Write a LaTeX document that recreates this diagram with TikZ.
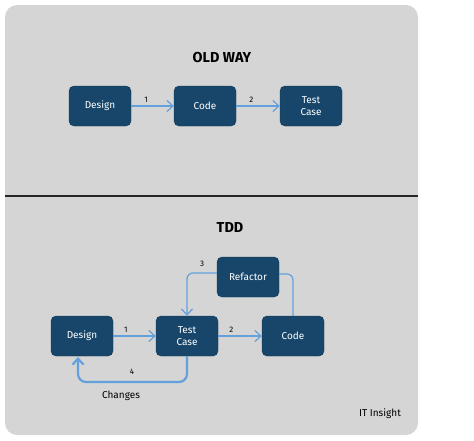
\documentclass[tikz,border=0pt]{standalone}
\usepackage{fontspec}
\setmainfont{Fira Sans}
\usetikzlibrary{arrows.meta}
\definecolor{panel}{RGB}{213,213,213}
\definecolor{navy}{RGB}{23,70,106}
\definecolor{flow}{RGB}{100,160,220}
\begin{document}
\begin{tikzpicture}[x=1pt,y=-1pt,
  box/.style={fill=navy,draw=navy!80!black,rounded corners=5pt,text=white,
    minimum width=62pt,minimum height=40pt,align=center,font=\normalsize,inner sep=1pt},
  flowline/.style={flow,line width=1.2pt,-{Straight Barb[length=6pt,width=11pt]}},
  num/.style={font=\footnotesize},
  title/.style={font=\Large\bfseries}]
\useasboundingbox (0,0) rectangle (474,440);
\fill[panel,rounded corners=12pt] (5,5) rectangle (418,435);
\draw[black!85,line width=1.3pt] (5,196) -- (418,196);

% old way
\node[title] (oldtitle) at (222,58) {OLD WAY};
\foreach \name/\txt/\x in {oDesign/Design/100,oCode/Code/205,oTest/{Test\\Case}/311}
  \node[box] (\name) at (\x,106) {\txt};
\foreach \a/\b/\n in {oDesign/oCode/1,oCode/oTest/2}{
  \draw[flowline] (\a) -- node[num,above,pos=0.35,black] {\n} (\b);
}

% tdd
\node[title] (tddtitle) at (230,228) {TDD};
\node[box] (tRefactor) at (248,277) {Refactor};
\foreach \name/\txt/\x in {tDesign/Design/82,tTest/{Test\\Case}/187,tCode/Code/293}
  \node[box] (\name) at (\x,336) {\txt};
\foreach \a/\b/\n in {tDesign/tTest/1,tTest/tCode/2}{
  \draw[flowline] (\a) -- node[num,above,pos=0.3,black] {\n} (\b);
}
\draw[flowline,rounded corners=6pt] (tRefactor.west|-0,273) -| (tTest.north);
\node[num] (n3) at (202,264) {3};
\draw[flow,line width=1.2pt,rounded corners=6pt] (tCode.north) |- (tRefactor.east|-0,274);
\draw[flowline,line width=2.2pt,rounded corners=8pt] (tTest.south) |- (78,382) -- (78,357);
\node[num] (n4) at (132,372) {4};
\node (changes) at (121,396) {Changes};
\node (brand) at (380,414) {IT Insight};
\end{tikzpicture}
\end{document}
